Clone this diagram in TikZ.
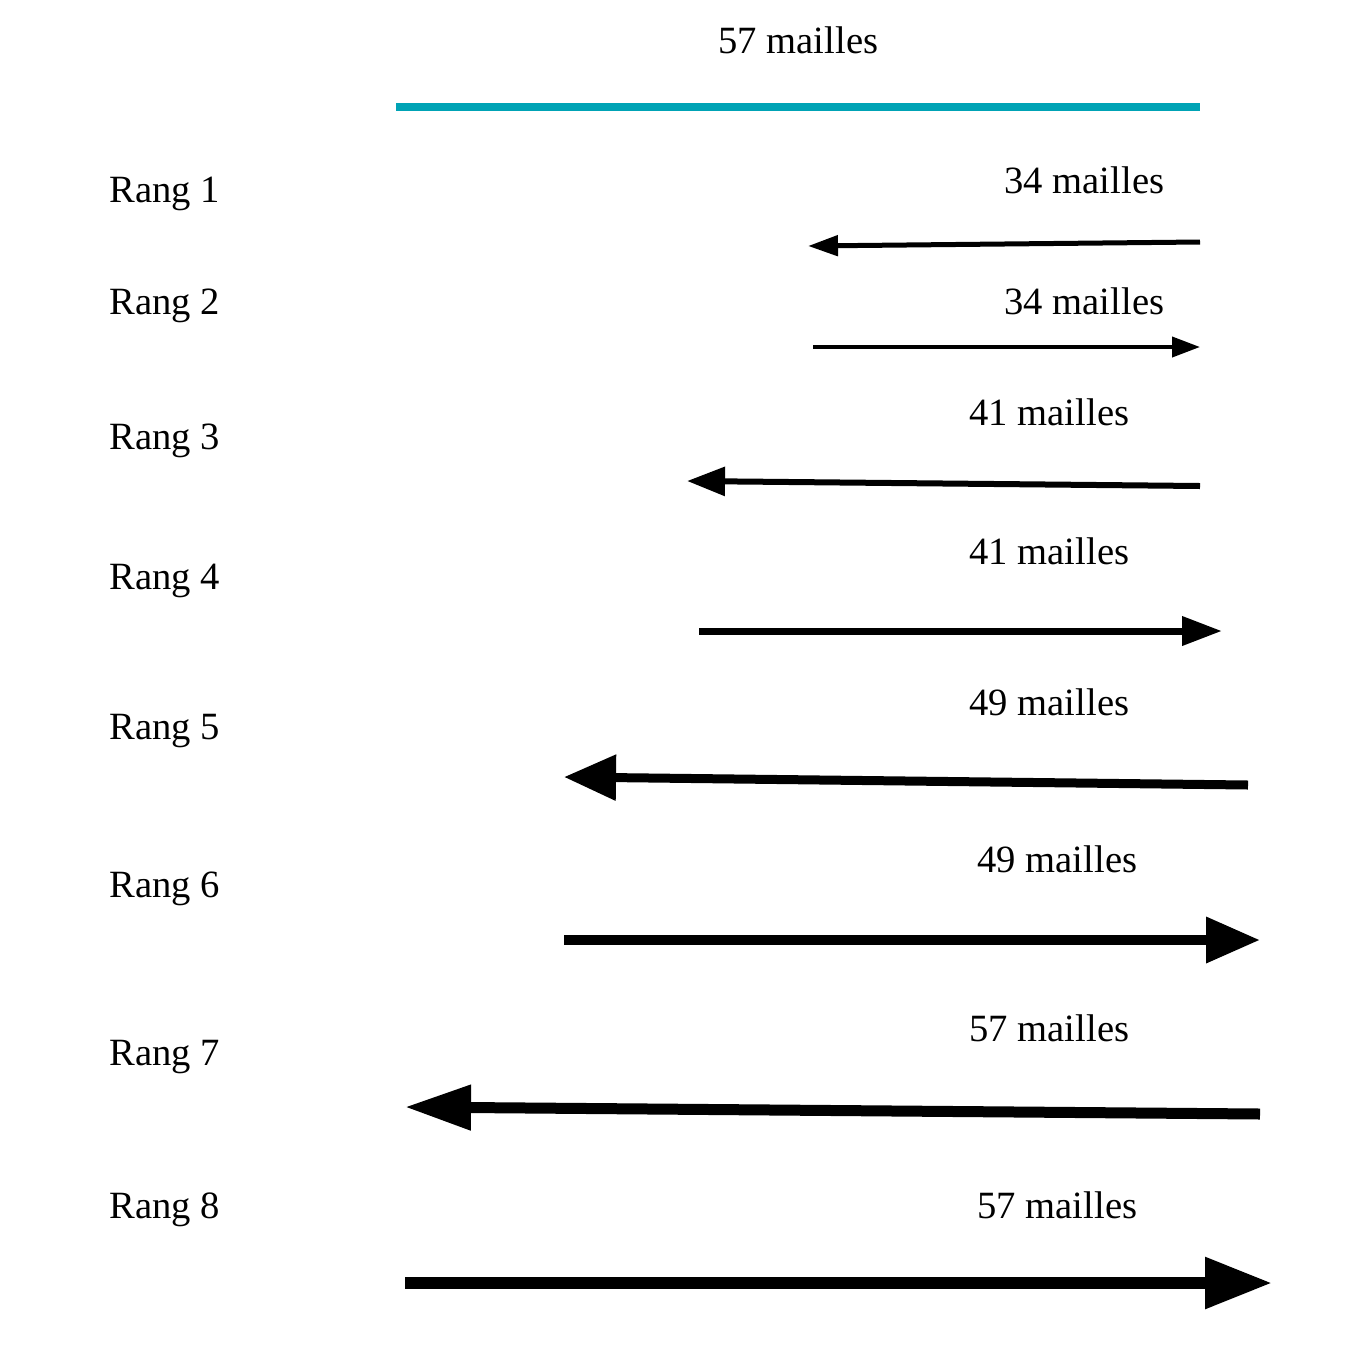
\documentclass[tikz,border=0pt]{standalone}
\usepackage{fontspec}
\setmainfont{Liberation Serif}
\usetikzlibrary{arrows.meta}
\definecolor{bleufil}{RGB}{0,163,181}

\begin{document}
\begin{tikzpicture}[x=0.5pt,y=-0.5pt,font=\fontsize{19.3}{23}\selectfont,
	rang/.style={anchor=base west,inner sep=0pt},
	maille/.style={anchor=base west,inner sep=0pt}]

\useasboundingbox (0,0) rectangle (1352,1366);

% total
\node[maille] (m0) at (718,53) {57 mailles};
\coordinate (f0a) at (396,107);
\coordinate (f0b) at (1200,107);
\draw[bleufil,line width=4pt] (f0a) -- (f0b);

% rangs
\node[rang] (r1) at (109,202)  {Rang 1};
\node[rang] (r2) at (109,314)  {Rang 2};
\node[rang] (r3) at (109,449)  {Rang 3};
\node[rang] (r4) at (109,589)  {Rang 4};
\node[rang] (r5) at (109,739)  {Rang 5};
\node[rang] (r6) at (109,897)  {Rang 6};
\node[rang] (r7) at (109,1065) {Rang 7};
\node[rang] (r8) at (109,1218) {Rang 8};

\node[maille] (m1) at (1004,193)  {34 mailles};
\node[maille] (m2) at (1004,314)  {34 mailles};
\node[maille] (m3) at (969,425)   {41 mailles};
\node[maille] (m4) at (969,564)   {41 mailles};
\node[maille] (m5) at (969,715)   {49 mailles};
\node[maille] (m6) at (977,872)   {49 mailles};
\node[maille] (m7) at (969,1041)  {57 mailles};
\node[maille] (m8) at (977,1218)  {57 mailles};

\coordinate (a1) at (1200,242);  \coordinate (b1) at (808,246);
\coordinate (a2) at (813,347);   \coordinate (b2) at (1200,347);
\coordinate (a3) at (1200,486);  \coordinate (b3) at (687,481);
\coordinate (a4) at (699,631);   \coordinate (b4) at (1222,631);
\coordinate (a5) at (1248,785);  \coordinate (b5) at (564,777);
\coordinate (a6) at (564,940);   \coordinate (b6) at (1260,940);
\coordinate (a7) at (1260,1114); \coordinate (b7) at (405,1107);
\coordinate (a8) at (405,1283);  \coordinate (b8) at (1272,1283);

\path (a1) edge[line width=2.5pt,-{Triangle[length=15pt,width=10pt]}] (b1)
	(a2) edge[line width=2pt,-{Triangle[length=14pt,width=10pt]}] (b2)
	(a3) edge[line width=3pt,-{Triangle[length=19pt,width=14pt]}] (b3)
	(a4) edge[line width=3.5pt,-{Triangle[length=20pt,width=14pt]}] (b4)
	(a5) edge[line width=4.5pt,-{Triangle[length=26pt,width=22pt]}] (b5)
	(a6) edge[line width=5pt,-{Triangle[length=27pt,width=22pt]}] (b6)
	(a7) edge[line width=5.5pt,-{Triangle[length=33pt,width=21.5pt]}] (b7)
	(a8) edge[line width=6pt,-{Triangle[length=33.5pt,width=24.5pt]}] (b8);

\end{tikzpicture}
\end{document}
